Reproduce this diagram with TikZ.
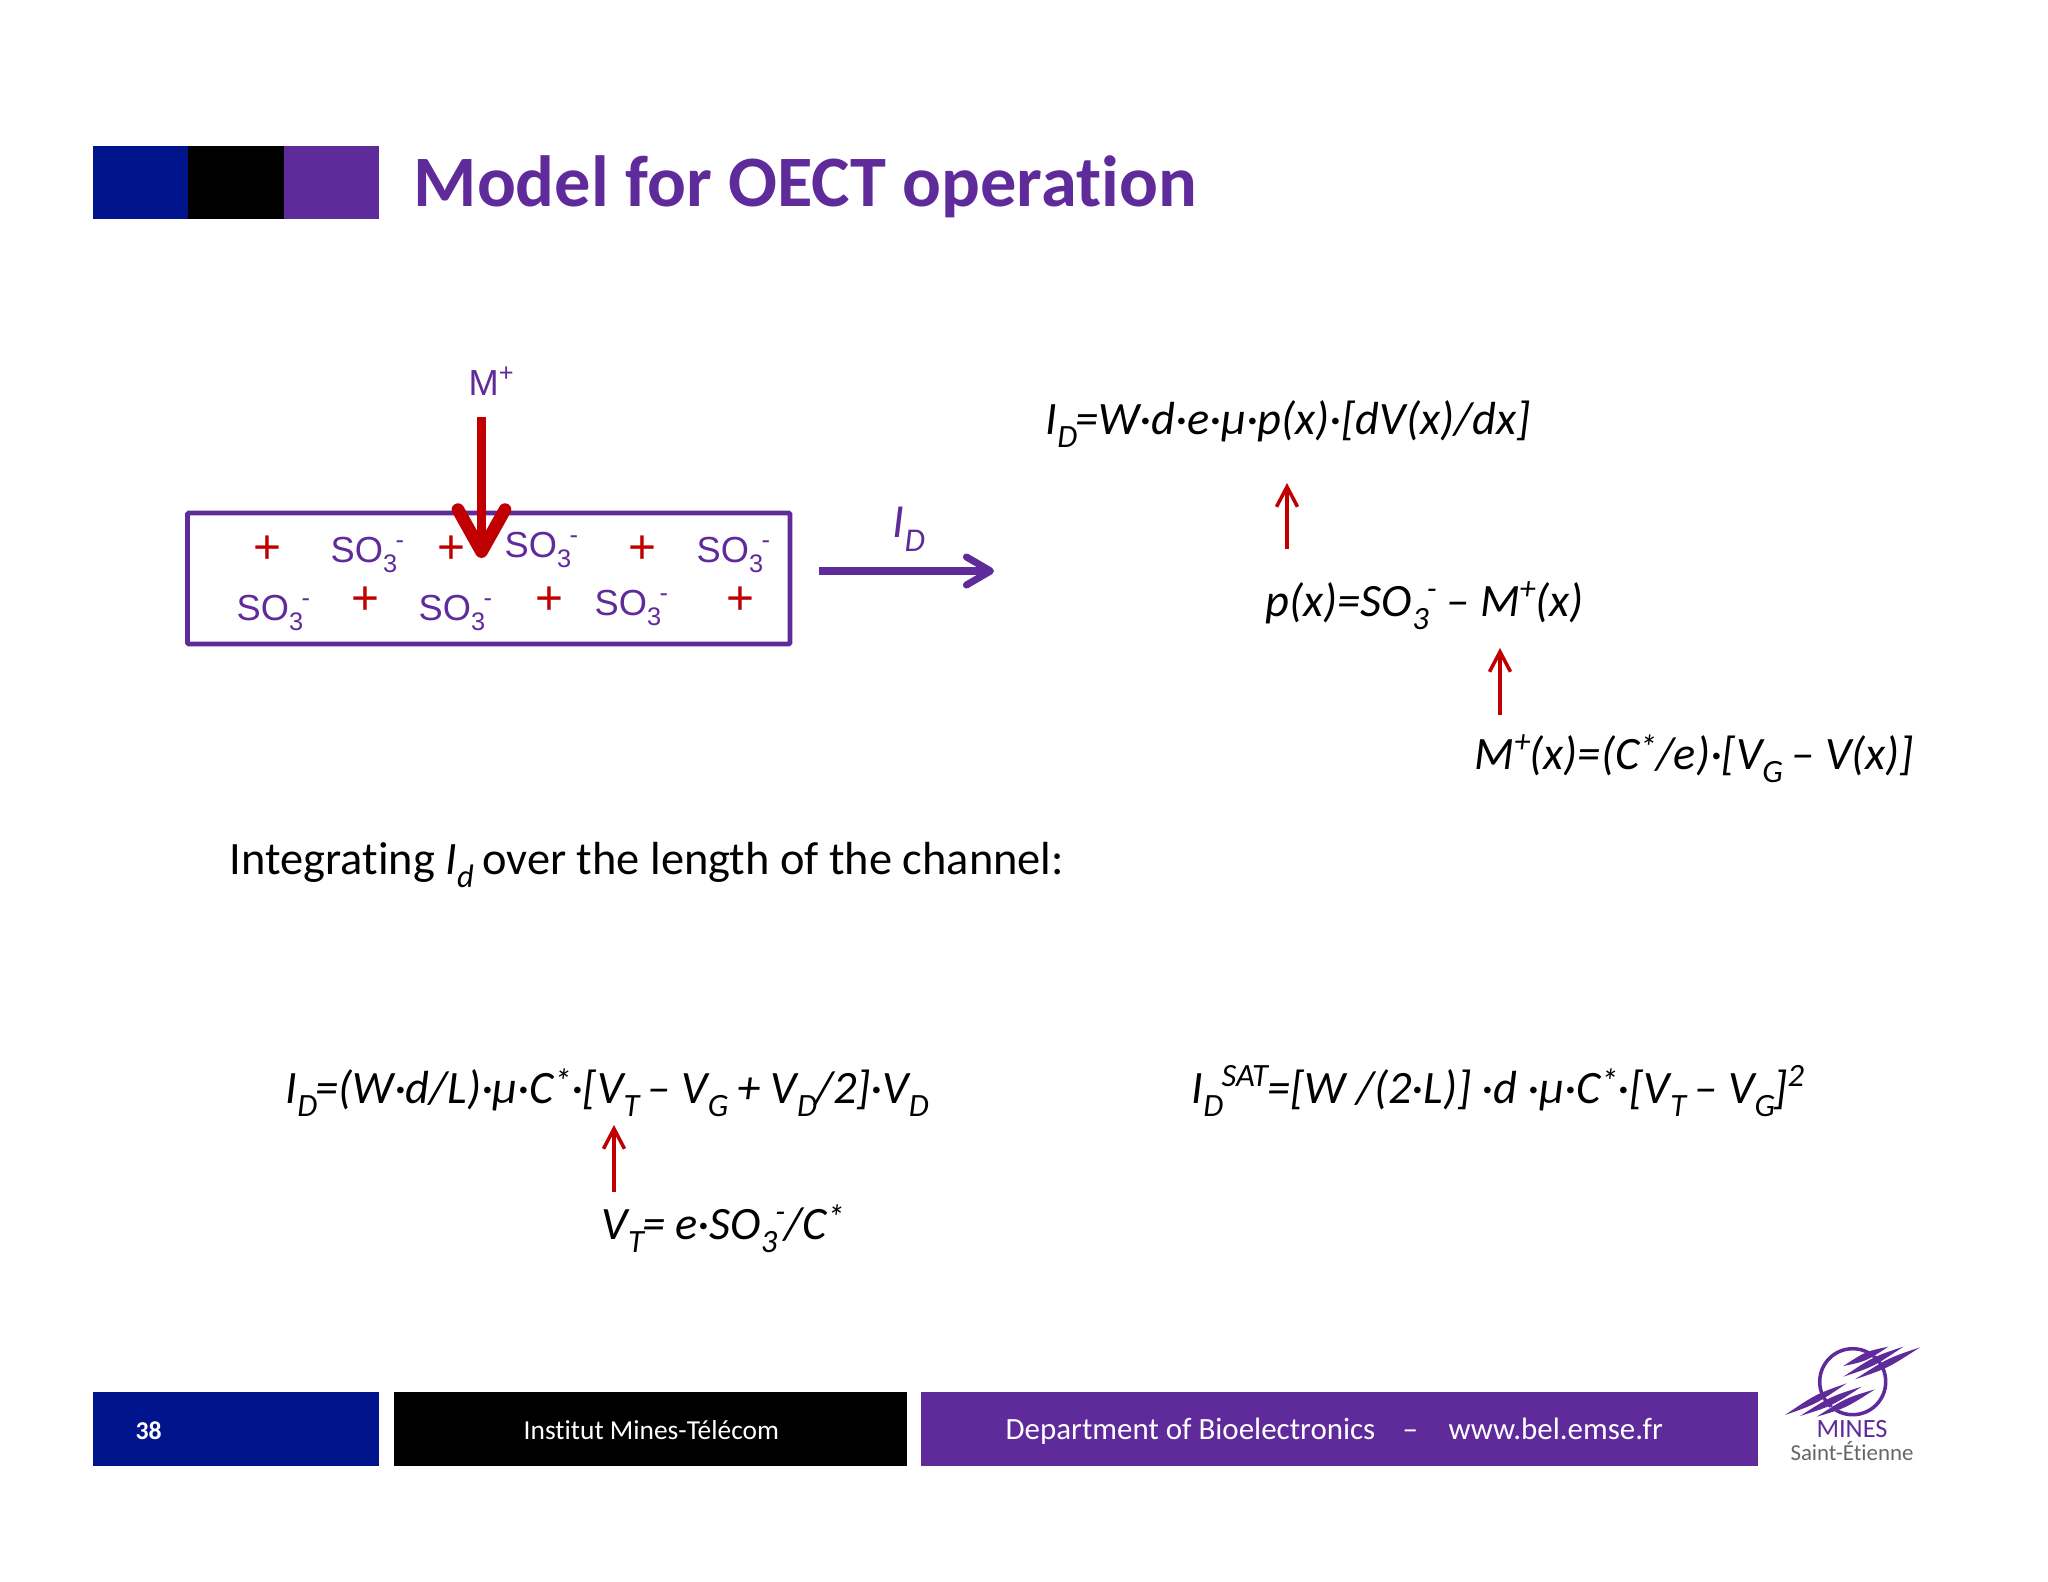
\documentclass[tikz,border=0pt]{standalone}
\usepackage{fontspec}
\usetikzlibrary{arrows.meta,calc}
\setmainfont[Ligatures=NoCommon]{Carlito}
\newfontfamily\arialfont{Liberation Sans}
\definecolor{slideblue}{HTML}{00148C}
\definecolor{slidepurple}{HTML}{5F2A9A}
\definecolor{ionred}{HTML}{C00000}
\definecolor{logogrey}{HTML}{666666}
\newcommand{\dn}[1]{\raisebox{-0.3em}{\scalebox{0.7}{#1}}\kern-0.04em\relax}
\newcommand{\up}[1]{\raisebox{0.36em}{\scalebox{0.7}{#1}}\kern-0.02em\relax}
\newcommand{\str}{\raisebox{0.2em}{\scalebox{0.75}{*}}}
\tikzset{
    eqn/.style={anchor=base west,inner sep=0pt,font=\fontsize{13.2}{15}\selectfont\itshape},
    ion/.style={anchor=base west,inner sep=0pt,text=slidepurple,font=\arialfont\fontsize{10.3}{12}\selectfont},
    plusion/.style={inner sep=0pt,text=ionred,font=\arialfont\fontsize{13.6}{15}\selectfont},
    barlabel/.style={anchor=base west,inner sep=0pt,text=white},
    thinarrow/.style={ionred,line width=1pt,-{Straight Barb[length=0.2cm,width=0.21cm]}}
}
\begin{document}
\begin{tikzpicture}[x=0.01cm,y=-0.01cm]
    \useasboundingbox (0,0) rectangle (2048,1582);

    % Header bar and title
    \fill[slideblue] (93,146) rectangle (188,219);
    \fill[black] (188,146) rectangle (284,219);
    \fill[slidepurple] (284,146) rectangle (379,219);
    \node[anchor=base west,inner sep=0pt,text=slidepurple,font=\fontsize{20.6}{24}\selectfont\bfseries] (title) at (413,207) {Model for OECT operation};

    % Channel box
    \draw[slidepurple,line width=1.3pt,rounded corners=0.3pt] (187.5,513) rectangle (790,644);
    \foreach \n/\x/\y in {a/267/550,b/451/550,c/642/550,d/365/601,e/549/601,f/740/601}
        \node[plusion] (plus\n) at (\x,\y) {+};
    \foreach \n/\x/\y in {a/330/562,b/504/557,c/696/562,d/236/620,e/418/620,f/594/615}
        \node[ion] (so\n) at (\x,\y) {SO\dn{3}\up{-}};

    % Ion arrow
    \node[ion] (mion) at (468,395) {M\up{+}};
    \coordinate (mtail) at (481.5,417);
    \coordinate (mtip) at (481.5,558);
    \draw[ionred,line width=2.8pt,line cap=butt,-{Straight Barb[length=0.42cm,width=0.47cm,round,line width=3.6pt]}] (mtail) -- (mtip);

    % Drain current arrow
    \node[anchor=base west,inner sep=0pt,text=slidepurple,font=\fontsize{13.5}{16}\selectfont\itshape] (idlabel) at (892,537) {I\dn{D}};
    \coordinate (idtail) at (819,571);
    \coordinate (idtip) at (994,571);
    \draw[slidepurple,line width=2pt,-{Straight Barb[length=0.24cm,width=0.28cm,round]}] (idtail) -- (idtip);

    % Local equations
    \node[eqn] (eqid) at (1045,434) {I\dn{D}=W·d·e·µ·p(x)·[dV(x)/dx]};
    \node[eqn] (eqp) at (1265,616) {p(x)=SO\dn{3}\up{-} – M\up{+}(x)};
    \node[eqn] (eqm) at (1474,769) {M\up{+}(x)=(C\str/e)·[V\dn{G} – V(x)]};
    \coordinate (ptail) at (1287,549);
    \coordinate (ptip) at (1287,483);
    \draw[thinarrow] (ptail) -- (ptip);
    \coordinate (mxtail) at (1500,715);
    \coordinate (mxtip) at (1500,648);
    \draw[thinarrow] (mxtail) -- (mxtip);

    \node[anchor=base west,inner sep=0pt,font=\fontsize{13.2}{15}\selectfont] (integ) at (229,874) {Integrating \textit{I\dn{d}} over the length of the channel:};

    % Integrated equations
    \node[eqn] (eqlin) at (285,1103) {I\dn{D}=(W·d/L)·µ·C\str·[V\dn{T} – V\dn{G} + V\dn{D}/2]·V\dn{D}};
    \node[eqn] (eqvt) at (601,1239) {V\dn{T}= e·SO\dn{3}\up{-}/C\str};
    \node[eqn] (eqsat) at (1191,1103) {I\dn{D}\up{SAT}=[W /(2·L)] ·d ·µ·C\str·[V\dn{T} – V\dn{G}]\up{2}};
    \coordinate (vttail) at (614,1192);
    \coordinate (vttip) at (614,1125);
    \draw[thinarrow] (vttail) -- (vttip);

    % Footer bar
    \fill[slideblue] (93,1392) rectangle (379,1466);
    \fill[black] (394,1392) rectangle (906.5,1466);
    \fill[slidepurple] (921,1392) rectangle (1758,1466);
    \node[barlabel,font=\fontsize{7.3}{9}\selectfont\bfseries] (pagenum) at (135,1439) {38};
    \node[barlabel,font=\fontsize{7.8}{9}\selectfont] (inst) at (523,1439) {Institut Mines-Télécom};
    \node[barlabel,font=\fontsize{8.8}{10}\selectfont] (dept) at (1005,1439) {Department of Bioelectronics};
    \node[barlabel,font=\fontsize{8.8}{10}\selectfont] (dash) at (1402,1439) {–};
    \node[barlabel,font=\fontsize{8.8}{10}\selectfont] (web) at (1448,1439) {www.bel.emse.fr};

    % Logo
    \draw[slidepurple,line width=1pt] (1852.7,1381.7) circle (33);
    \foreach \ax/\ay/\bx/\by in {1888.3/1346.7/1843.3/1366,1903.3/1346.7/1843.3/1376.7,1920/1347.3/1855/1379.3,1785/1415/1846.7/1383.3,1800/1416/1861.7/1386.7,1816.7/1416.7/1875/1389.3}{
        \draw[white,line width=1.5pt] (\ax,\ay) -- (\bx,\by);
        \fill[slidepurple] (\ax,\ay) .. controls ($(\ax,\ay)!.5!(\bx,\by)+(0,5)$) .. (\bx,\by) .. controls ($(\ax,\ay)!.5!(\bx,\by)+(0,-5)$) .. (\ax,\ay);
    }
    \node[anchor=base,inner sep=0pt,text=slidepurple,font=\fontsize{7.5}{9}\selectfont] (logoa) at (1852,1437) {MINES};
    \node[anchor=base,inner sep=0pt,text=logogrey,font=\fontsize{6.5}{8}\selectfont] (logob) at (1852,1460) {Saint-Étienne};
\end{tikzpicture}
\end{document}
